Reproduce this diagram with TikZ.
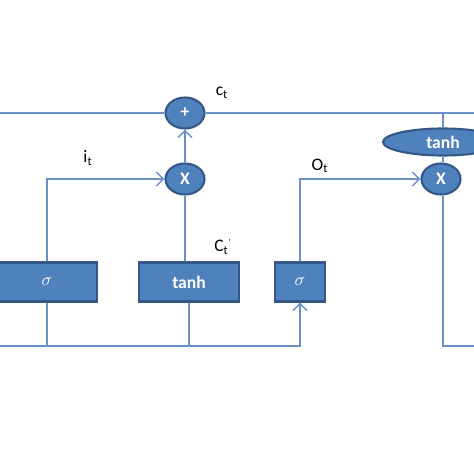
\documentclass[tikz,border=0pt]{standalone}
\usepackage{fontspec}
\setmainfont{Carlito}
\usetikzlibrary{arrows.meta}
\usetikzlibrary{shapes.geometric}

\definecolor{boxblue}{RGB}{79,129,189}
\definecolor{edgeblue}{RGB}{52,88,134}
\definecolor{wireblue}{RGB}{105,145,200}

\begin{document}
\begin{tikzpicture}[x=0.02cm,y=-0.02cm,
    gate/.style={draw=edgeblue,fill=boxblue,line width=1.2pt,text=white,font=\bfseries,inner sep=0pt},
    layer/.style={gate,rectangle,minimum height=0.78cm},
    op/.style={gate,ellipse,minimum width=0.78cm,minimum height=0.62cm},
    wire/.style={wireblue,line width=0.8pt},
    tip/.style={-{Straight Barb[length=4pt,width=8pt]}},
    lbl/.style={font=\normalsize}]

    % picture frame
    \useasboundingbox (0,0) rectangle (474,474);
    \clip (0,0) rectangle (474,474);

    % gate layers
    \node [layer,minimum width=2cm] (sigf) at (47,282) {$\sigma$};
    \node [layer,minimum width=2cm] (tanhc) at (189,282) {tanh};
    \node [layer,minimum width=1cm] (sigo) at (300,282) {$\sigma$};

    % pointwise operations
    \node [op] (add) at (185,113) {+};
    \node [op] (muli) at (185,179) {X};
    \node [op,minimum width=2.4cm,minimum height=0.54cm] (tanhs) at (443,142) {tanh};
    \node [op] (mulo) at (441,179) {X};

    % free ends
    \coordinate (cin) at (0,113);
    \coordinate (cout) at (474,113);
    \coordinate (cdown) at (443,113);
    \coordinate (xin) at (0,346);
    \coordinate (hcorner) at (443,346);
    \coordinate (hout) at (474,346);

    % cell state
    \draw [wire] (cin) -- (add);
    \draw [wire] (add) -- (cout);
    \draw [wire] (cdown) -- (tanhs.north -| cdown);
    \draw [wire] (tanhs.south -| cdown) -- (mulo.north -| cdown);
    \draw [wire] (mulo.south -| cdown) -- (hcorner) -- (hout);

    % input
    \draw [wire] (xin) -| (sigo.south);
    \draw [wire,tip] (xin -| sigo.south) -- (sigo.south);
    \draw [wire] (sigf.south) -- (sigf.south |- xin);
    \draw [wire] (tanhc.south) -- (tanhc.south |- xin);

    % gates into products
    \draw [wire,tip] (sigf.north) |- (muli);
    \draw [wire] (tanhc.north -| muli) -- (muli);
    \draw [wire,tip] (muli) -- (add);
    \draw [wire,tip] (sigo.north) |- (mulo);

    % labels
    \node [lbl] (lct) at (222,93) {c\textsubscript{t}};
    \node [lbl] (lit) at (88,158) {i\textsubscript{t}};
    \node [lbl] (lot) at (320,166) {O\textsubscript{t}};
    \node [lbl] (lcc) at (223,247) {C\textsubscript{t}\textsuperscript{\tiny '}};

\end{tikzpicture}
\end{document}
